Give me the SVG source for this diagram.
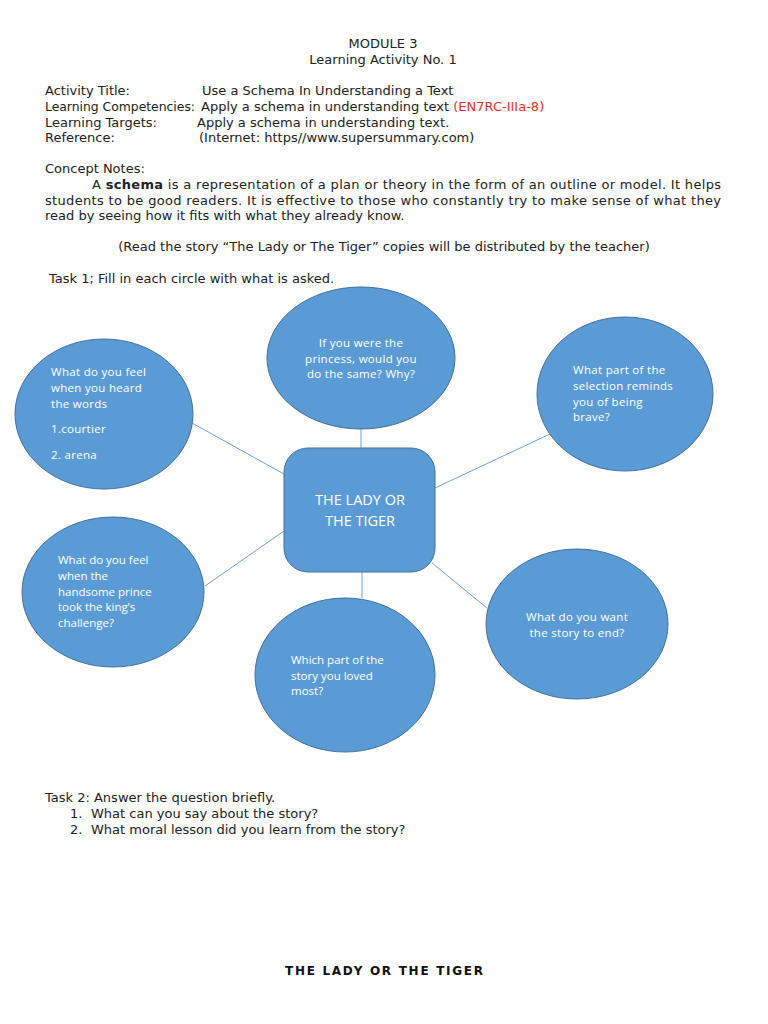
<svg xmlns="http://www.w3.org/2000/svg" width="768" height="1024" viewBox="0 0 768 1024">
<style>
.h{font-family:"DejaVu Sans","Liberation Sans",sans-serif;font-size:13px;fill:#222}
.red{fill:#e8302a}
.n{fill:#5b9bd5;stroke:#41719c;stroke-width:1}
.t{font-family:"Open Sans","Liberation Sans",sans-serif;font-size:11.5px;fill:#ffffff}
.s{letter-spacing:0.3px}
.c{font-family:"Open Sans","Liberation Sans",sans-serif;font-size:14.5px;fill:#ffffff}
.ln{stroke:#6fa3d8;stroke-width:1;fill:none}
</style>
<rect width="768" height="1024" fill="#ffffff"/>
<g id="header">
<text class="h" x="383" y="48" text-anchor="middle">MODULE 3</text>
<text class="h" x="383" y="64" text-anchor="middle">Learning Activity No. 1</text>
<text class="h" x="45" y="95">Activity Title:</text>
<text class="h" x="202" y="95">Use a Schema In Understanding a Text</text>
<text class="h" x="45" y="111" textLength="150" lengthAdjust="spacingAndGlyphs">Learning Competencies:</text>
<text class="h" x="201" y="111">Apply a schema in understanding text <tspan class="red">(EN7RC-IIIa-8)</tspan></text>
<text class="h" x="45" y="127">Learning Targets:</text>
<text class="h" x="197" y="127">Apply a schema in understanding text.</text>
<text class="h" x="45" y="142">Reference:</text>
<text class="h" x="199" y="142">(Internet: https//www.supersummary.com)</text>
<text class="h" x="45" y="173">Concept Notes:</text>
<text class="h" x="92" y="189" textLength="629" lengthAdjust="spacing">A <tspan font-weight="bold">schema</tspan> is a representation of a plan or theory in the form of an outline or model. It helps</text>
<text class="h" x="45" y="205" textLength="676" lengthAdjust="spacing">students to be good readers. It is effective to those who constantly try to make sense of what they</text>
<text class="h" x="45" y="220">read by seeing how it fits with what they already know.</text>
<text class="h" x="384" y="251" text-anchor="middle">(Read the story “The Lady or The Tiger” copies will be distributed by the teacher)</text>
<text class="h" x="49" y="283">Task 1; Fill in each circle with what is asked.</text>
</g>
<g id="connectors">
<line class="ln" x1="361" y1="429" x2="361" y2="448"/>
<line class="ln" x1="192" y1="423" x2="284" y2="474"/>
<line class="ln" x1="550" y1="434" x2="435" y2="488"/>
<line class="ln" x1="205" y1="586" x2="284" y2="531"/>
<line class="ln" x1="362" y1="572" x2="362" y2="598"/>
<line class="ln" x1="432" y1="563" x2="487" y2="608"/>
</g>
<g id="center">
<rect class="n" x="284" y="448" width="151" height="124" rx="24"/>
<text class="c" x="360" y="505" text-anchor="middle">THE LADY OR</text>
<text class="c" x="360" y="526" text-anchor="middle">THE TIGER</text>
</g>
<g id="node-top">
<ellipse class="n" cx="361" cy="358" rx="94" ry="71"/>
<text class="t s" x="361" y="347" text-anchor="middle">If you were the</text>
<text class="t s" x="361" y="363" text-anchor="middle">princess, would you</text>
<text class="t s" x="361" y="378" text-anchor="middle">do the same? Why?</text>
</g>
<g id="node-left">
<ellipse class="n" cx="104" cy="414" rx="89" ry="75"/>
<text class="t s" x="51" y="376">What do you feel</text>
<text class="t s" x="51" y="392">when you heard</text>
<text class="t s" x="51" y="408">the words</text>
<text class="t s" x="51" y="433">1.courtier</text>
<text class="t s" x="51" y="459">2. arena</text>
</g>
<g id="node-right">
<ellipse class="n" cx="625" cy="394" rx="88" ry="77"/>
<text class="t s" x="573" y="374">What part of the</text>
<text class="t s" x="573" y="390">selection reminds</text>
<text class="t s" x="573" y="406">you of being</text>
<text class="t s" x="573" y="421">brave?</text>
</g>
<g id="node-left-bottom">
<ellipse class="n" cx="113" cy="592" rx="91" ry="75"/>
<text class="t" x="58" y="564">What do you feel</text>
<text class="t" x="58" y="580">when the</text>
<text class="t" x="58" y="596">handsome prince</text>
<text class="t" x="58" y="611">took the king’s</text>
<text class="t" x="58" y="627">challenge?</text>
</g>
<g id="node-bottom">
<ellipse class="n" cx="345" cy="675" rx="90" ry="77"/>
<text class="t" x="291" y="664">Which part of the</text>
<text class="t" x="291" y="680">story you loved</text>
<text class="t" x="291" y="695">most?</text>
</g>
<g id="node-right-bottom">
<ellipse class="n" cx="577" cy="624" rx="91" ry="75"/>
<text class="t s" x="577" y="621" text-anchor="middle">What do you want</text>
<text class="t s" x="577" y="637" text-anchor="middle">the story to end?</text>
</g>
<g id="footer">
<text class="h" x="45" y="802">Task 2: Answer the question briefly.</text>
<text class="h" x="70" y="818">1.</text>
<text class="h" x="91" y="818">What can you say about the story?</text>
<text class="h" x="70" y="834">2.</text>
<text class="h" x="91" y="834">What moral lesson did you learn from the story?</text>
<text x="384" y="975" text-anchor="middle" font-family="DejaVu Sans, sans-serif" font-weight="bold" font-size="12px" fill="#111" textLength="198" lengthAdjust="spacing">THE LADY OR THE TIGER</text>
</g>
</svg>
